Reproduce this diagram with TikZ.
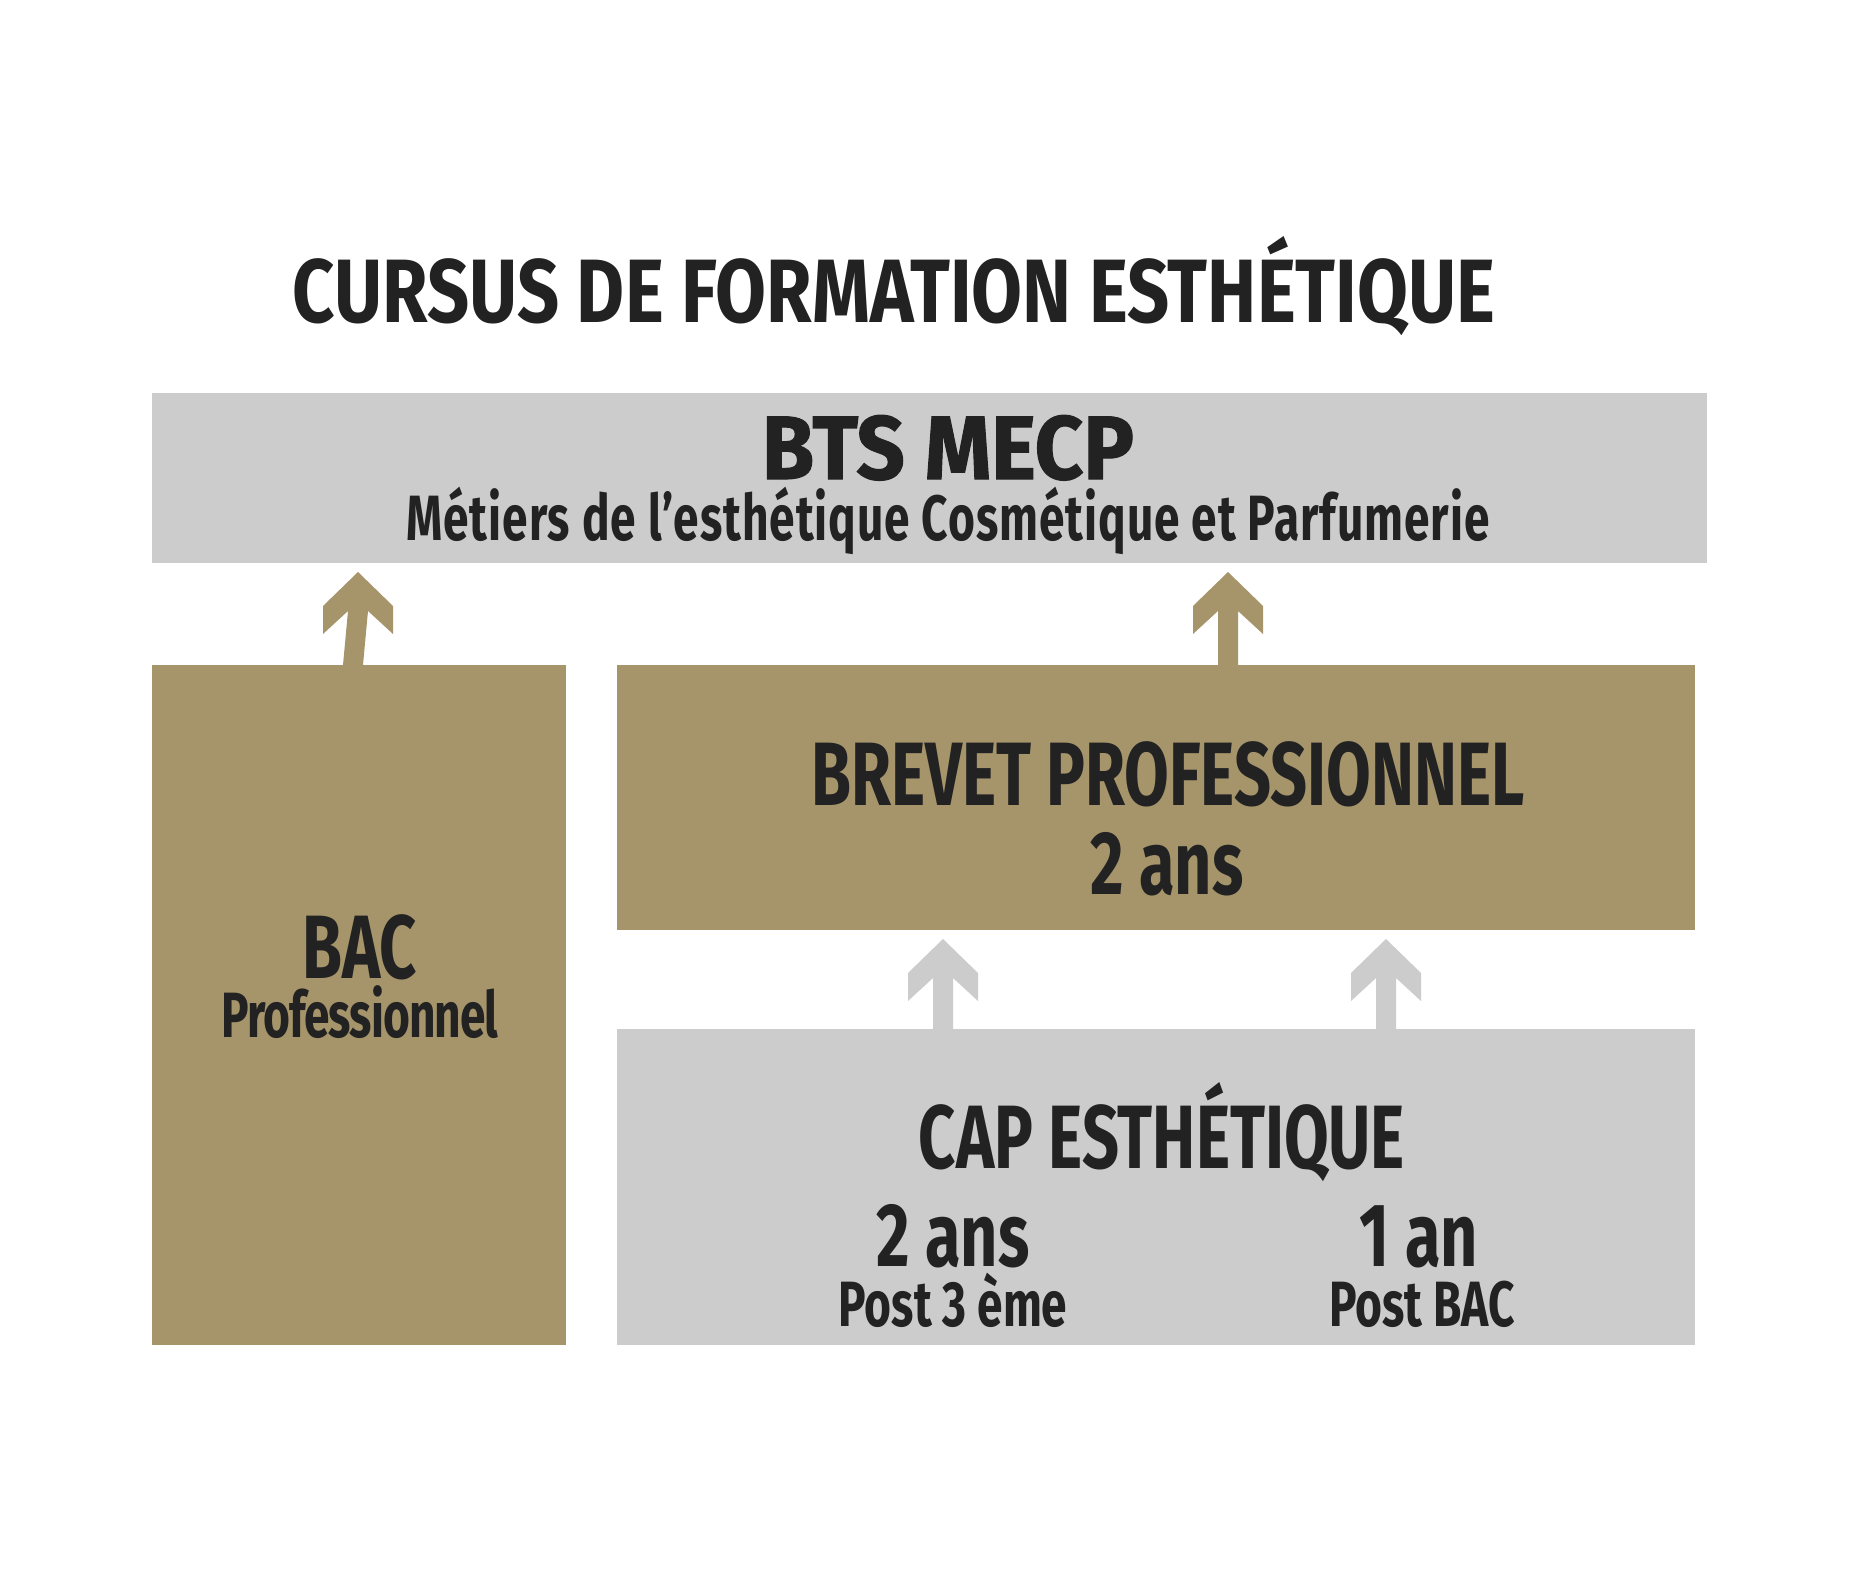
\documentclass[tikz,border=0pt]{standalone}
\usepackage{fontspec}
\setmainfont{Fira Sans}[FakeStretch=0.72]
\newfontfamily\titlefont{Fira Sans}[FakeStretch=0.82]
\newfontfamily\btsfont{Fira Sans}[FakeStretch=0.94, BoldFeatures={FakeBold=1.2}]
\usepackage{tikz}
\usetikzlibrary{calc}
\definecolor{bgold}{HTML}{A6956B}
\definecolor{bgray}{HTML}{CCCCCC}
\definecolor{ink}{HTML}{222222}

% block arrow: colour, foot, target node, lean of the head
\newcommand\uparr[4]{%
  \fill[#1] let \p1=(#2), \p2=(#3.south) in
    (\x1+#4pt,\y2-9pt) -- ++(35pt,-34pt) -- ++(0,-28pt)
    -- (\x1+#4pt+10pt,\y2-48pt) -- (\x1+10pt,\y1) -- (\x1-10pt,\y1)
    -- (\x1+#4pt-10pt,\y2-48pt) -- (\x1+#4pt-35pt,\y2-71pt) -- ++(0,28pt) -- cycle;
}

\begin{document}
\begin{tikzpicture}[x=1pt, y=-1pt,
    box/.style={inner sep=0pt, outer sep=0pt, anchor=north west},
    big/.style={font=\fontsize{90}{90}\selectfont\bfseries, text=ink, anchor=base, inner sep=0pt},
    small/.style={font=\fontsize{64}{64}\selectfont\bfseries, text=ink, anchor=base, inner sep=0pt}]
    \fill[white] (0,0) rectangle (1860,1589);
    \useasboundingbox (0,0) rectangle (1860,1589);

    % BOXES
    \node[box, fill=bgray, minimum width=1555, minimum height=170] (bts) at (152,393) {};
    \node[box, fill=bgold, minimum width=414, minimum height=680] (bac) at (152,665) {};
    \node[box, fill=bgold, minimum width=1078, minimum height=265] (brevet) at (617,665) {};
    \node[box, fill=bgray, minimum width=1078, minimum height=316] (cap) at (617,1029) {};

    % ARROWS
    \coordinate (f1) at ($(bac.north west)+(201,0)$);
    \coordinate (f2) at ($(brevet.north west)+(611,0)$);
    \coordinate (f3) at ($(cap.north west)+(326,0)$);
    \coordinate (f4) at ($(cap.north west)+(769,0)$);
    \foreach \c/\f/\t/\l in {
        bgold/f1/bts/5, bgold/f2/bts/0,
        bgray/f3/brevet/0, bgray/f4/brevet/0}
        \uparr{\c}{\f}{\t}{\l};

    % TEXTS
    \node[big, font=\fontsize{90}{90}\titlefont\bfseries] (title) at (894,322) {CURSUS DE FORMATION ESTHÉTIQUE};
    \node[big, font=\fontsize{90}{90}\btsfont\bfseries] (btst) at (948,479) {BTS MECP};
    \node[small] (btss) at (948,540) {\addfontfeature{LetterSpace=1.5}Métiers de l’esthétique Cosmétique et Parfumerie};
    \node[big] (bact) at (360,978) {BAC};
    \node[small] (bacs) at (360,1037) {\addfontfeature{LetterSpace=-1.5}Professionnel};
    \node[big] (brevt) at (1168,805) {BREVET PROFESSIONNEL};
    \node[big] (brevs) at (1167,894) {2 ans};
    \node[big] (capt) at (1162,1168) {CAP ESTHÉTIQUE};
    \node[big] (capa) at (953,1266) {2 ans};
    \node[small] (capb) at (953,1326) {Post 3 ème};
    \node[big] (capc) at (1419,1266) {1 an};
    \node[small] (capd) at (1422,1326) {Post BAC};
\end{tikzpicture}
\end{document}
